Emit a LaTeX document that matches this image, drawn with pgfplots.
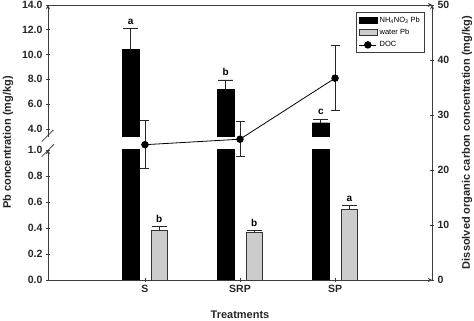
\documentclass[border=0pt]{standalone}
\usepackage{fontspec}
\setmainfont{Liberation Sans}
\usepackage{pgfplots}
\pgfplotsset{compat=1.18}
\usepackage{pgfplotstable}

\pgfplotstableread{
x y e
0.85 10.4 1.7
1.85 7.2 0.75
2.85 4.5 0.3
}\nhdata
\pgfplotstableread{
x y e
1.15 0.385 0.025
2.15 0.365 0.017
3.15 0.545 0.027
}\waterdata
\pgfplotstableread{
x y e
1 24.6 4.4
2 25.6 3.2
3 36.7 5.9
}\docdata

\definecolor{bargray}{RGB}{204,204,204}
\definecolor{axgray}{RGB}{60,60,60}

\tikzset{letter/.style={anchor=south, inner sep=0pt, yshift=4pt, font=\bfseries\fontsize{10}{11}\selectfont}}

\pgfplotsset{
  common/.style={
    scale only axis, width=384pt, xmin=-0.02, xmax=4.02,
    anchor=south west, clip mode=individual,
    tick align=outside, major tick length=4pt,
    axis line style={-, line width=0.9pt, axgray},
    every tick/.style={axgray, line width=0.8pt},
    tick label style={font=\bfseries\fontsize{10.5}{12}\selectfont, text=black!85},
    /pgf/number format/assume math mode=true,
  },
  blackbar/.style={ybar, bar width=17pt, bar shift=0pt, fill=black, draw=black},
  graybar/.style={ybar, bar width=16pt, bar shift=0pt, fill=bargray, draw=black!80, line width=0.6pt},
  errplus/.style={error bars/.cd, y dir=plus, y explicit,
    draw error bar/.code 2 args={%
      \draw[line width=0.8pt, black!85] ##1 -- ##2;
      \draw[line width=0.8pt, black!85] ##2 ++(-7.5pt,0pt) -- ++(15pt,0pt);}},
  errboth/.style={error bars/.cd, y dir=both, y explicit,
    draw error bar/.code 2 args={%
      \draw[line width=0.8pt, black!85] ##1 -- ##2;
      \draw[line width=0.8pt, black!85] ##2 ++(-4.5pt,0pt) -- ++(9pt,0pt);}},
}

\begin{document}
\begin{tikzpicture}
\path[use as bounding box] (0pt,0pt) rectangle (474pt,321pt);

% lower part of left axis
\begin{axis}[common, at={(48pt,41pt)}, height=130pt,
  ymin=0, ymax=1,
  axis x line=bottom, axis y line=left,
  xtick={1,2,3}, xticklabels={S,SRP,SP},
  ytick={0,0.2,0.4,0.6,0.8,1},
  yticklabel style={/pgf/number format/.cd, fixed, fixed zerofill, precision=1},
]
\addplot[blackbar] table[x=x, y=y]{\nhdata};
\addplot[graybar, errplus] table[x=x, y=y, y error=e]{\waterdata};
\node[letter] at (axis cs:1.15,0.41) {b};
\node[letter] at (axis cs:2.15,0.382) {b};
\node[letter] at (axis cs:3.15,0.572) {a};
\end{axis}

% upper part of left axis
\begin{axis}[common, at={(48pt,184pt)}, height=132pt,
  ymin=3.35, ymax=14,
  axis x line=top, axis y line=left,
  xtick=\empty,
  ytick={4,6,8,10,12,14},
  yticklabel style={/pgf/number format/.cd, fixed, fixed zerofill, precision=1},
]
\addplot[blackbar, errplus] table[x=x, y=y, y error=e]{\nhdata};
\node[letter] at (axis cs:0.85,12.1) {a};
\node[letter] at (axis cs:1.85,7.95) {b};
\node[letter] at (axis cs:2.85,4.8) {c};
\end{axis}

% right axis (DOC)
\begin{axis}[common, at={(48pt,41pt)}, height=275pt,
  ymin=0, ymax=50,
  axis y line=right, axis x line=none,
  ytick={0,10,20,30,40,50},
  legend style={at={(0.982,0.975)}, anchor=north east, draw=axgray, line width=0.6pt,
    font=\fontsize{7.5}{9}\selectfont, inner xsep=3pt, inner ysep=2.5pt, row sep=1.5pt,
    /tikz/every even column/.append style={column sep=2pt}},
  legend cell align=left,
]
\addlegendimage{legend image code/.code={\draw[fill=black,draw=black] (0pt,-3pt) rectangle (18pt,3pt);}}
\addlegendimage{legend image code/.code={\draw[fill=bargray,draw=black!80,line width=0.6pt] (0pt,-3pt) rectangle (18pt,3pt);}}
\addplot[black, line width=0.8pt, mark=*, mark size=3.3pt, errboth]
  table[x=x, y=y, y error=e]{\docdata};
\legend{NH\textsubscript{4}NO\textsubscript{3} Pb, water Pb, DOC}
\end{axis}

% axis break marks
\draw[line width=0.8pt, axgray] (41.7pt,179.3pt) -- (53.3pt,191pt);
\draw[line width=0.8pt, axgray] (41.7pt,164.3pt) -- (54pt,176.7pt);

% axis titles
\node[rotate=90, font=\bfseries\fontsize{11}{13}\selectfont, text=black!85] at (8pt,178.5pt) {Pb concentration (mg/kg)};
\node[rotate=90, font=\bfseries\fontsize{11}{13}\selectfont, text=black!85] at (467pt,178.5pt) {Dissolved organic carbon concentration (mg/kg)};
\node[font=\bfseries\fontsize{11}{13}\selectfont, text=black!85] at (240pt,6pt) {Treatments};
\end{tikzpicture}
\end{document}
